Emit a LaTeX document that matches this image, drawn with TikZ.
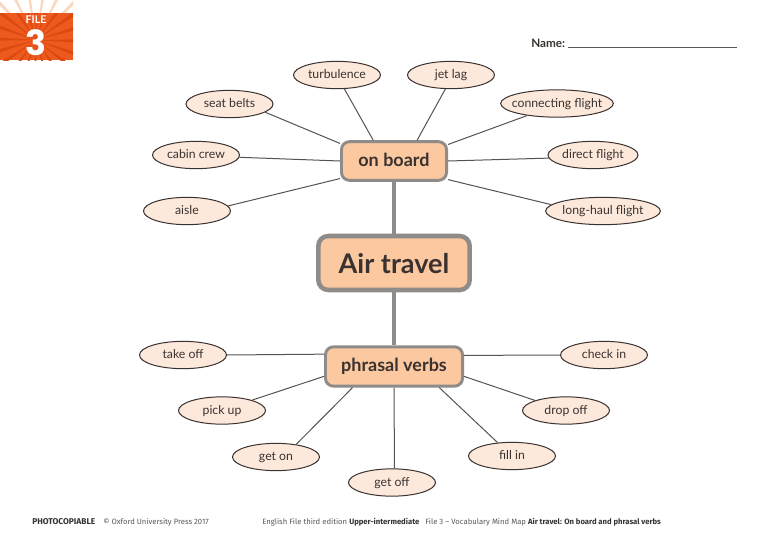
\documentclass[tikz,border=0pt]{standalone}
\usepackage{fontspec}
\usetikzlibrary{shapes.geometric}
\setmainfont{Lato}
\newfontfamily\footf{Fira Sans}
\newfontfamily\logof{Poppins}
\definecolor{hubfill}{HTML}{FBC8A0}
\definecolor{hubline}{HTML}{8F8B88}
\definecolor{bubfill}{HTML}{FDE9DC}
\definecolor{ink}{HTML}{3A3230}
\definecolor{logo}{HTML}{EE5A1E}
\definecolor{logod}{HTML}{DC4A12}
\definecolor{ray}{HTML}{F9C9A8}
\tikzset{
 x=0.75pt,y=-0.75pt,
 bub/.style={ellipse,draw=ink,fill=bubfill,line width=0.75pt,inner sep=0pt,minimum height=20.5pt,text height=7.6pt,text depth=1.8pt,text=ink,font=\fontsize{9.2}{10}\selectfont},
 bubS/.style={bub,minimum width=65.25pt},
 bubM/.style={bub,minimum width=67.5pt},
 bubL/.style={bub,minimum width=84.5pt},
 hub/.style={rectangle,rounded corners=6pt,draw=hubline,fill=hubfill,line width=2.2pt,inner sep=0pt,text height=10.6pt,text depth=2.5pt,text=ink,font=\fontsize{13.5}{15}\bfseries\selectfont},
 mainhub/.style={hub,rounded corners=7.5pt,line width=3.4pt,minimum width=113.5pt,minimum height=40.5pt,text height=18pt,text depth=3pt,font=\fontsize{20.3}{22}\bfseries\selectfont},
 spoke/.style={draw=ink!85,line width=0.75pt},
 trunk/.style={draw=hubline,line width=3.5pt},
 foot/.style={anchor=base west,inner sep=0pt,text=black!65,font=\footf\fontsize{5.77}{6.5}\selectfont},
}
\begin{document}
\begin{tikzpicture}
\useasboundingbox (0,0) rectangle (768,543);
% logo
\begin{scope}
 \clip (0,0) rectangle (73,13);
 \foreach \a in {100,118,136,154,172,82,64,46}{
  \fill[ray,opacity=.75] (36,40) -- ++(\a-3:80pt) -- ++(\a+90:5pt) -- cycle;
 }
\end{scope}
\fill[logo] (0,13) rectangle (73,60);
\begin{scope}
 \clip (0,13) rectangle (73,60);
 \foreach \a in {0,18,...,342}{
  \fill[logod] (36,40) -- ++(\a-4:80pt) -- ++(\a+90:7pt) -- cycle;
 }
\end{scope}
\node[text=white,font=\fontsize{8}{9}\bfseries\selectfont,inner sep=0pt] (filelabel) at (36,19.5) {FILE};
\node[text=white,font=\logof\fontsize{26}{27}\bfseries\selectfont,inner sep=0pt] (filenum) at (36,42.5) {3};
% name
\node[anchor=base west,inner sep=0pt,text=ink,font=\fontsize{8.8}{9}\bfseries\selectfont] (namelabel) at (531,47) {Name:};
\coordinate (nameA) at (568,47.5);
\coordinate (nameB) at (737,47.5);
\draw[draw=black!65,line width=1pt] (nameA) -- (nameB);
% hubs
\node[mainhub] (main) at (394,263) {Air travel};
\node[hub,minimum width=78.8pt,minimum height=29pt] (board) at (394,161) {on board};
\node[hub,minimum width=102.8pt,minimum height=29.5pt] (verbs) at (394,366.5) {phrasal verbs};
\draw[trunk] (board.south) -- (main.north);
\draw[trunk] (main.south) -- (verbs.north);
% bubbles
\node[bubS] (aisle) at (187,211) {aisle};
\node[bubS] (crew) at (196,155) {cabin crew};
\node[bubS] (belts) at (229.5,104) {seat belts};
\node[bubS] (turb) at (337,75) {turbulence};
\node[bubS] (jet) at (451,75) {jet lag};
\node[bubL] (conn) at (557,103.5) {\makebox[40pt][c]{connecting flight}};
\node[bubM] (direct) at (593,155) {direct flight};
\node[bubL] (long) at (603,211) {long-haul flight};
\node[bubS] (take) at (183,355) {take off};
\node[bubS] (pick) at (222,410.5) {pick up};
\node[bubS] (geton) at (276,457) {get on};
\node[bubS] (getoff) at (392,482.5) {get off};
\node[bubS] (fill) at (512,456) {fill in};
\node[bubS] (drop) at (566,410.5) {drop off};
\node[bubS] (check) at (604,355) {check in};
% spokes
\draw[spoke] (board.198) -- (aisle.7);
\draw[spoke] (board.180) -- (crew.-3);
\draw[spoke] (board.162) -- (belts.-13);
\draw[spoke] (board.135) -- (turb.-62);
\draw[spoke] (board.42) -- (jet.248);
\draw[spoke] (board.17) -- (conn.202);
\draw[spoke] (board.0) -- (direct.184);
\draw[spoke] (board.-19) -- (long.173);
\draw[spoke] (verbs.170.5) -- (take.0);
\draw[spoke] (verbs.188) -- (pick.19);
\draw[spoke] (verbs.207) -- (geton.32);
\draw[spoke] (verbs.270) -- (getoff.80);
\draw[spoke] (verbs.-25) -- (fill.137);
\draw[spoke] (verbs.-8) -- (drop.162);
\draw[spoke] (verbs.9.5) -- (check.180);
% footer
\node[foot] (f1) at (32,524) {\textcolor{black!80}{\fontsize{6.3}{7}\bfseries\selectfont PHOTOCOPIABLE}};
\node[foot] (f2) at (103,524) {© Oxford University Press 2017};
\node[foot] (f3) at (262,524) {English File third edition \textcolor{black!80}{\bfseries Upper-intermediate}\hspace{3pt} File 3 – Vocabulary Mind Map \textcolor{black!80}{\bfseries Air travel: On board and phrasal verbs}};
\end{tikzpicture}
\end{document}
